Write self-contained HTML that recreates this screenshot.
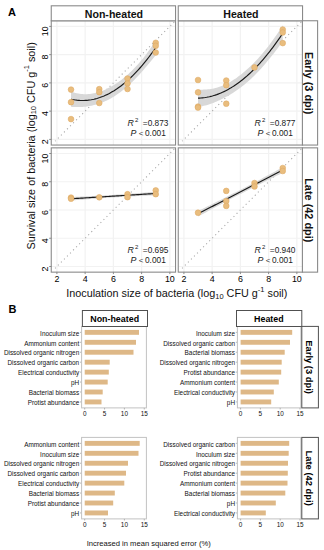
<!DOCTYPE html><html><head><meta charset="utf-8"><style>html,body{margin:0;padding:0;background:#fff;}svg{display:block;} text{font-family:"Liberation Sans", sans-serif;}</style></head><body>
<svg width="324" height="550" viewBox="0 0 324 550">
<rect width="324" height="550" fill="#fff"/>
<defs>
<clipPath id="cp00"><rect x="51.25" y="20.75" width="124.30" height="124.30"/></clipPath>
<clipPath id="cp01"><rect x="178.25" y="20.75" width="124.30" height="124.30"/></clipPath>
<clipPath id="cp10"><rect x="51.25" y="147.85" width="124.30" height="124.30"/></clipPath>
<clipPath id="cp11"><rect x="178.25" y="147.85" width="124.30" height="124.30"/></clipPath>
</defs>
<g clip-path="url(#cp00)">
<line x1="56.90" y1="20.75" x2="56.90" y2="145.05" stroke="#f2f2f2" stroke-width="1.2"/>
<line x1="51.25" y1="139.40" x2="175.55" y2="139.40" stroke="#f2f2f2" stroke-width="1.2"/>
<line x1="85.14" y1="20.75" x2="85.14" y2="145.05" stroke="#f2f2f2" stroke-width="1.2"/>
<line x1="51.25" y1="111.15" x2="175.55" y2="111.15" stroke="#f2f2f2" stroke-width="1.2"/>
<line x1="113.38" y1="20.75" x2="113.38" y2="145.05" stroke="#f2f2f2" stroke-width="1.2"/>
<line x1="51.25" y1="82.90" x2="175.55" y2="82.90" stroke="#f2f2f2" stroke-width="1.2"/>
<line x1="141.62" y1="20.75" x2="141.62" y2="145.05" stroke="#f2f2f2" stroke-width="1.2"/>
<line x1="51.25" y1="54.65" x2="175.55" y2="54.65" stroke="#f2f2f2" stroke-width="1.2"/>
<line x1="169.86" y1="20.75" x2="169.86" y2="145.05" stroke="#f2f2f2" stroke-width="1.2"/>
<line x1="51.25" y1="26.40" x2="175.55" y2="26.40" stroke="#f2f2f2" stroke-width="1.2"/>
<line x1="55.11" y1="141.19" x2="178.33" y2="17.93" stroke="#a8a8a8" stroke-width="1.1" stroke-dasharray="1.1 3.2" stroke-dashoffset="0.3"/>
<polygon points="71.02,91.61 72.46,92.10 73.89,92.53 75.33,92.92 76.76,93.25 78.20,93.53 79.64,93.76 81.07,93.93 82.51,94.06 83.94,94.13 85.38,94.16 86.82,94.14 88.25,94.06 89.69,93.94 91.12,93.77 92.56,93.56 93.99,93.29 95.43,92.98 96.87,92.62 98.30,92.22 99.74,91.77 101.17,91.27 102.61,90.73 104.05,90.14 105.48,89.51 106.92,88.84 108.35,88.12 109.79,87.36 111.23,86.57 112.66,85.73 114.10,84.85 115.53,83.94 116.97,82.99 118.41,81.99 119.84,80.96 121.28,79.88 122.71,78.77 124.15,77.61 125.59,76.41 127.02,75.17 128.46,73.89 129.89,72.56 131.33,71.19 132.77,69.77 134.20,68.32 135.64,66.81 137.07,65.27 138.51,63.68 139.94,62.05 141.38,60.36 142.82,58.63 144.25,56.84 145.69,54.99 147.12,53.08 148.56,51.11 150.00,49.07 151.43,46.96 152.87,44.77 154.30,42.52 155.74,40.18 155.74,55.18 154.30,56.94 152.87,58.70 151.43,60.46 150.00,62.21 148.56,63.94 147.12,65.66 145.69,67.37 144.25,69.05 142.82,70.71 141.38,72.34 139.94,73.95 138.51,75.52 137.07,77.06 135.64,78.56 134.20,80.02 132.77,81.45 131.33,82.83 129.89,84.18 128.46,85.49 127.02,86.77 125.59,88.00 124.15,89.20 122.71,90.36 121.28,91.48 119.84,92.55 118.41,93.59 116.97,94.59 115.53,95.54 114.10,96.46 112.66,97.33 111.23,98.16 109.79,98.94 108.35,99.69 106.92,100.40 105.48,101.06 104.05,101.69 102.61,102.28 101.17,102.84 99.74,103.36 98.30,103.84 96.87,104.29 95.43,104.71 93.99,105.09 92.56,105.43 91.12,105.75 89.69,106.03 88.25,106.27 86.82,106.49 85.38,106.67 83.94,106.82 82.51,106.94 81.07,107.02 79.64,107.08 78.20,107.11 76.76,107.10 75.33,107.07 73.89,107.01 72.46,106.92 71.02,106.81" fill="#d8d8d8"/>
<polyline points="71.02,99.21 72.46,99.51 73.89,99.77 75.33,100.00 76.76,100.18 78.20,100.32 79.64,100.42 81.07,100.48 82.51,100.50 83.94,100.48 85.38,100.41 86.82,100.31 88.25,100.17 89.69,99.98 91.12,99.76 92.56,99.50 93.99,99.19 95.43,98.84 96.87,98.46 98.30,98.03 99.74,97.56 101.17,97.05 102.61,96.51 104.05,95.92 105.48,95.29 106.92,94.62 108.35,93.91 109.79,93.15 111.23,92.36 112.66,91.53 114.10,90.66 115.53,89.74 116.97,88.79 118.41,87.79 119.84,86.76 121.28,85.68 122.71,84.56 124.15,83.41 125.59,82.21 127.02,80.97 128.46,79.69 129.89,78.37 131.33,77.01 132.77,75.61 134.20,74.17 135.64,72.69 137.07,71.16 138.51,69.60 139.94,68.00 141.38,66.35 142.82,64.67 144.25,62.94 145.69,61.18 147.12,59.37 148.56,57.52 150.00,55.64 151.43,53.71 152.87,51.74 154.30,49.73 155.74,47.68" fill="none" stroke="#1a1a1a" stroke-width="1.15"/>
<circle cx="71.02" cy="89.60" r="2.85" fill="#e9bd7e" stroke="#dea863" stroke-width="0.55"/>
<circle cx="71.02" cy="102.20" r="2.85" fill="#e9bd7e" stroke="#dea863" stroke-width="0.55"/>
<circle cx="71.02" cy="119.10" r="2.85" fill="#e9bd7e" stroke="#dea863" stroke-width="0.55"/>
<circle cx="99.26" cy="89.10" r="2.85" fill="#e9bd7e" stroke="#dea863" stroke-width="0.55"/>
<circle cx="99.26" cy="92.20" r="2.85" fill="#e9bd7e" stroke="#dea863" stroke-width="0.55"/>
<circle cx="99.26" cy="103.00" r="2.85" fill="#e9bd7e" stroke="#dea863" stroke-width="0.55"/>
<circle cx="127.50" cy="78.50" r="2.85" fill="#e9bd7e" stroke="#dea863" stroke-width="0.55"/>
<circle cx="127.50" cy="83.50" r="2.85" fill="#e9bd7e" stroke="#dea863" stroke-width="0.55"/>
<circle cx="127.50" cy="89.00" r="2.85" fill="#e9bd7e" stroke="#dea863" stroke-width="0.55"/>
<circle cx="155.74" cy="42.80" r="2.85" fill="#e9bd7e" stroke="#dea863" stroke-width="0.55"/>
<circle cx="155.74" cy="45.80" r="2.85" fill="#e9bd7e" stroke="#dea863" stroke-width="0.55"/>
<circle cx="155.74" cy="52.50" r="2.85" fill="#e9bd7e" stroke="#dea863" stroke-width="0.55"/>
</g>
<text x="127.60" y="126.10" font-size="8.8" fill="#1a1a1a"><tspan font-style="italic">R</tspan></text>
<text x="134.90" y="121.50" font-size="6" fill="#1a1a1a">2</text>
<text x="142.80" y="126.10" font-size="8.3" fill="#1a1a1a">=0.873</text>
<text x="130.40" y="135.80" font-size="8.8" fill="#1a1a1a"><tspan font-style="italic">P</tspan></text>
<text x="138.70" y="135.70" font-size="8.1" fill="#333">&lt;</text>
<text x="145.00" y="135.80" font-size="8.3" fill="#1a1a1a">0.001</text>
<rect x="51.25" y="20.75" width="124.30" height="124.30" fill="none" stroke="#8a8a8a" stroke-width="1.1"/>
<g clip-path="url(#cp01)">
<line x1="183.90" y1="20.75" x2="183.90" y2="145.05" stroke="#f2f2f2" stroke-width="1.2"/>
<line x1="178.25" y1="139.40" x2="302.55" y2="139.40" stroke="#f2f2f2" stroke-width="1.2"/>
<line x1="212.14" y1="20.75" x2="212.14" y2="145.05" stroke="#f2f2f2" stroke-width="1.2"/>
<line x1="178.25" y1="111.15" x2="302.55" y2="111.15" stroke="#f2f2f2" stroke-width="1.2"/>
<line x1="240.38" y1="20.75" x2="240.38" y2="145.05" stroke="#f2f2f2" stroke-width="1.2"/>
<line x1="178.25" y1="82.90" x2="302.55" y2="82.90" stroke="#f2f2f2" stroke-width="1.2"/>
<line x1="268.62" y1="20.75" x2="268.62" y2="145.05" stroke="#f2f2f2" stroke-width="1.2"/>
<line x1="178.25" y1="54.65" x2="302.55" y2="54.65" stroke="#f2f2f2" stroke-width="1.2"/>
<line x1="296.86" y1="20.75" x2="296.86" y2="145.05" stroke="#f2f2f2" stroke-width="1.2"/>
<line x1="178.25" y1="26.40" x2="302.55" y2="26.40" stroke="#f2f2f2" stroke-width="1.2"/>
<line x1="182.11" y1="141.19" x2="305.33" y2="17.93" stroke="#a8a8a8" stroke-width="1.1" stroke-dasharray="1.1 3.2" stroke-dashoffset="0.3"/>
<polygon points="198.02,89.68 199.46,89.69 200.89,89.68 202.33,89.66 203.76,89.61 205.20,89.54 206.64,89.44 208.07,89.30 209.51,89.14 210.94,88.94 212.38,88.70 213.82,88.42 215.25,88.10 216.69,87.73 218.12,87.32 219.56,86.85 220.99,86.34 222.43,85.78 223.87,85.17 225.30,84.51 226.74,83.80 228.17,83.05 229.61,82.26 231.05,81.42 232.48,80.54 233.92,79.62 235.35,78.65 236.79,77.65 238.23,76.61 239.66,75.53 241.10,74.41 242.53,73.26 243.97,72.07 245.41,70.85 246.84,69.58 248.28,68.29 249.71,66.95 251.15,65.58 252.59,64.17 254.02,62.72 255.46,61.24 256.89,59.72 258.33,58.16 259.77,56.56 261.20,54.93 262.64,53.25 264.07,51.53 265.51,49.77 266.94,47.98 268.38,46.14 269.82,44.25 271.25,42.33 272.69,40.36 274.12,38.35 275.56,36.30 277.00,34.20 278.43,32.05 279.87,29.86 281.30,27.63 282.74,25.35 282.74,41.35 281.30,43.34 279.87,45.32 278.43,47.26 277.00,49.18 275.56,51.07 274.12,52.94 272.69,54.78 271.25,56.58 269.82,58.36 268.38,60.12 266.94,61.84 265.51,63.53 264.07,65.19 262.64,66.82 261.20,68.41 259.77,69.98 258.33,71.51 256.89,73.01 255.46,74.48 254.02,75.91 252.59,77.31 251.15,78.67 249.71,80.00 248.28,81.29 246.84,82.55 245.41,83.77 243.97,84.96 242.53,86.11 241.10,87.23 239.66,88.31 238.23,89.36 236.79,90.37 235.35,91.35 233.92,92.29 232.48,93.21 231.05,94.10 229.61,94.95 228.17,95.78 226.74,96.58 225.30,97.36 223.87,98.11 222.43,98.83 220.99,99.54 219.56,100.21 218.12,100.87 216.69,101.50 215.25,102.12 213.82,102.70 212.38,103.26 210.94,103.78 209.51,104.27 208.07,104.72 206.64,105.14 205.20,105.51 203.76,105.84 202.33,106.13 200.89,106.36 199.46,106.55 198.02,106.68" fill="#d8d8d8"/>
<polyline points="198.02,98.18 199.46,98.12 200.89,98.02 202.33,97.89 203.76,97.73 205.20,97.53 206.64,97.29 208.07,97.01 209.51,96.71 210.94,96.36 212.38,95.98 213.82,95.56 215.25,95.11 216.69,94.62 218.12,94.09 219.56,93.53 220.99,92.94 222.43,92.31 223.87,91.64 225.30,90.93 226.74,90.19 228.17,89.42 229.61,88.61 231.05,87.76 232.48,86.87 233.92,85.96 235.35,85.00 236.79,84.01 238.23,82.98 239.66,81.92 241.10,80.82 242.53,79.69 243.97,78.51 245.41,77.31 246.84,76.07 248.28,74.79 249.71,73.47 251.15,72.12 252.59,70.74 254.02,69.32 255.46,67.86 256.89,66.37 258.33,64.84 259.77,63.27 261.20,61.67 262.64,60.03 264.07,58.36 265.51,56.65 266.94,54.91 268.38,53.13 269.82,51.31 271.25,49.46 272.69,47.57 274.12,45.64 275.56,43.68 277.00,41.69 278.43,39.66 279.87,37.59 281.30,35.49 282.74,33.35" fill="none" stroke="#1a1a1a" stroke-width="1.15"/>
<circle cx="198.02" cy="80.00" r="2.85" fill="#e9bd7e" stroke="#dea863" stroke-width="0.55"/>
<circle cx="198.02" cy="92.30" r="2.85" fill="#e9bd7e" stroke="#dea863" stroke-width="0.55"/>
<circle cx="198.02" cy="106.60" r="2.85" fill="#e9bd7e" stroke="#dea863" stroke-width="0.55"/>
<circle cx="198.02" cy="107.60" r="2.85" fill="#e9bd7e" stroke="#dea863" stroke-width="0.55"/>
<circle cx="226.26" cy="80.50" r="2.85" fill="#e9bd7e" stroke="#dea863" stroke-width="0.55"/>
<circle cx="226.26" cy="85.20" r="2.85" fill="#e9bd7e" stroke="#dea863" stroke-width="0.55"/>
<circle cx="226.26" cy="103.70" r="2.85" fill="#e9bd7e" stroke="#dea863" stroke-width="0.55"/>
<circle cx="254.50" cy="67.40" r="2.85" fill="#e9bd7e" stroke="#dea863" stroke-width="0.55"/>
<circle cx="282.74" cy="29.50" r="2.85" fill="#e9bd7e" stroke="#dea863" stroke-width="0.55"/>
<circle cx="282.74" cy="32.50" r="2.85" fill="#e9bd7e" stroke="#dea863" stroke-width="0.55"/>
<circle cx="282.74" cy="43.10" r="2.85" fill="#e9bd7e" stroke="#dea863" stroke-width="0.55"/>
</g>
<text x="254.60" y="126.10" font-size="8.8" fill="#1a1a1a"><tspan font-style="italic">R</tspan></text>
<text x="261.90" y="121.50" font-size="6" fill="#1a1a1a">2</text>
<text x="269.80" y="126.10" font-size="8.3" fill="#1a1a1a">=0.877</text>
<text x="257.40" y="135.80" font-size="8.8" fill="#1a1a1a"><tspan font-style="italic">P</tspan></text>
<text x="265.70" y="135.70" font-size="8.1" fill="#333">&lt;</text>
<text x="272.00" y="135.80" font-size="8.3" fill="#1a1a1a">0.001</text>
<rect x="178.25" y="20.75" width="124.30" height="124.30" fill="none" stroke="#8a8a8a" stroke-width="1.1"/>
<g clip-path="url(#cp10)">
<line x1="56.90" y1="147.85" x2="56.90" y2="272.15" stroke="#f2f2f2" stroke-width="1.2"/>
<line x1="51.25" y1="266.50" x2="175.55" y2="266.50" stroke="#f2f2f2" stroke-width="1.2"/>
<line x1="85.14" y1="147.85" x2="85.14" y2="272.15" stroke="#f2f2f2" stroke-width="1.2"/>
<line x1="51.25" y1="238.25" x2="175.55" y2="238.25" stroke="#f2f2f2" stroke-width="1.2"/>
<line x1="113.38" y1="147.85" x2="113.38" y2="272.15" stroke="#f2f2f2" stroke-width="1.2"/>
<line x1="51.25" y1="210.00" x2="175.55" y2="210.00" stroke="#f2f2f2" stroke-width="1.2"/>
<line x1="141.62" y1="147.85" x2="141.62" y2="272.15" stroke="#f2f2f2" stroke-width="1.2"/>
<line x1="51.25" y1="181.75" x2="175.55" y2="181.75" stroke="#f2f2f2" stroke-width="1.2"/>
<line x1="169.86" y1="147.85" x2="169.86" y2="272.15" stroke="#f2f2f2" stroke-width="1.2"/>
<line x1="51.25" y1="153.50" x2="175.55" y2="153.50" stroke="#f2f2f2" stroke-width="1.2"/>
<line x1="55.11" y1="268.29" x2="178.33" y2="145.03" stroke="#a8a8a8" stroke-width="1.1" stroke-dasharray="1.1 3.2" stroke-dashoffset="0.3"/>
<polygon points="71.02,197.00 72.46,196.94 73.89,196.88 75.33,196.82 76.76,196.76 78.20,196.70 79.64,196.64 81.07,196.57 82.51,196.51 83.94,196.44 85.38,196.38 86.82,196.31 88.25,196.24 89.69,196.17 91.12,196.09 92.56,196.02 93.99,195.95 95.43,195.87 96.87,195.80 98.30,195.72 99.74,195.64 101.17,195.56 102.61,195.48 104.05,195.40 105.48,195.31 106.92,195.23 108.35,195.14 109.79,195.06 111.23,194.97 112.66,194.88 114.10,194.79 115.53,194.70 116.97,194.61 118.41,194.51 119.84,194.42 121.28,194.32 122.71,194.22 124.15,194.13 125.59,194.03 127.02,193.93 128.46,193.82 129.89,193.72 131.33,193.62 132.77,193.51 134.20,193.41 135.64,193.30 137.07,193.19 138.51,193.08 139.94,192.97 141.38,192.86 142.82,192.74 144.25,192.63 145.69,192.51 147.12,192.40 148.56,192.28 150.00,192.16 151.43,192.04 152.87,191.92 154.30,191.80 155.74,191.67 155.74,195.27 154.30,195.33 152.87,195.39 151.43,195.45 150.00,195.51 148.56,195.57 147.12,195.63 145.69,195.70 144.25,195.76 142.82,195.83 141.38,195.89 139.94,195.96 138.51,196.03 137.07,196.10 135.64,196.17 134.20,196.25 132.77,196.32 131.33,196.40 129.89,196.47 128.46,196.55 127.02,196.63 125.59,196.71 124.15,196.79 122.71,196.87 121.28,196.96 119.84,197.04 118.41,197.13 116.97,197.21 115.53,197.30 114.10,197.39 112.66,197.48 111.23,197.57 109.79,197.66 108.35,197.76 106.92,197.85 105.48,197.95 104.05,198.05 102.61,198.14 101.17,198.24 99.74,198.34 98.30,198.45 96.87,198.55 95.43,198.65 93.99,198.76 92.56,198.86 91.12,198.97 89.69,199.08 88.25,199.19 86.82,199.30 85.38,199.41 83.94,199.53 82.51,199.64 81.07,199.76 79.64,199.87 78.20,199.99 76.76,200.11 75.33,200.23 73.89,200.35 72.46,200.47 71.02,200.60" fill="#d8d8d8"/>
<polyline points="71.02,198.80 72.46,198.71 73.89,198.62 75.33,198.53 76.76,198.43 78.20,198.34 79.64,198.25 81.07,198.16 82.51,198.07 83.94,197.98 85.38,197.89 86.82,197.80 88.25,197.71 89.69,197.62 91.12,197.53 92.56,197.44 93.99,197.35 95.43,197.26 96.87,197.17 98.30,197.08 99.74,196.99 101.17,196.90 102.61,196.81 104.05,196.72 105.48,196.63 106.92,196.54 108.35,196.45 109.79,196.36 111.23,196.27 112.66,196.18 114.10,196.09 115.53,196.00 116.97,195.91 118.41,195.82 119.84,195.73 121.28,195.64 122.71,195.55 124.15,195.46 125.59,195.37 127.02,195.28 128.46,195.19 129.89,195.10 131.33,195.01 132.77,194.92 134.20,194.83 135.64,194.74 137.07,194.65 138.51,194.56 139.94,194.47 141.38,194.38 142.82,194.29 144.25,194.19 145.69,194.10 147.12,194.01 148.56,193.92 150.00,193.83 151.43,193.74 152.87,193.65 154.30,193.56 155.74,193.47" fill="none" stroke="#1a1a1a" stroke-width="1.15"/>
<circle cx="71.02" cy="197.60" r="2.85" fill="#e9bd7e" stroke="#dea863" stroke-width="0.55"/>
<circle cx="71.02" cy="198.70" r="2.85" fill="#e9bd7e" stroke="#dea863" stroke-width="0.55"/>
<circle cx="99.26" cy="197.30" r="2.85" fill="#e9bd7e" stroke="#dea863" stroke-width="0.55"/>
<circle cx="127.50" cy="194.20" r="2.85" fill="#e9bd7e" stroke="#dea863" stroke-width="0.55"/>
<circle cx="127.50" cy="197.20" r="2.85" fill="#e9bd7e" stroke="#dea863" stroke-width="0.55"/>
<circle cx="155.74" cy="190.40" r="2.85" fill="#e9bd7e" stroke="#dea863" stroke-width="0.55"/>
<circle cx="155.74" cy="194.20" r="2.85" fill="#e9bd7e" stroke="#dea863" stroke-width="0.55"/>
</g>
<text x="127.60" y="253.20" font-size="8.8" fill="#1a1a1a"><tspan font-style="italic">R</tspan></text>
<text x="134.90" y="248.60" font-size="6" fill="#1a1a1a">2</text>
<text x="142.80" y="253.20" font-size="8.3" fill="#1a1a1a">=0.695</text>
<text x="130.40" y="262.90" font-size="8.8" fill="#1a1a1a"><tspan font-style="italic">P</tspan></text>
<text x="138.70" y="262.80" font-size="8.1" fill="#333">&lt;</text>
<text x="145.00" y="262.90" font-size="8.3" fill="#1a1a1a">0.001</text>
<rect x="51.25" y="147.85" width="124.30" height="124.30" fill="none" stroke="#8a8a8a" stroke-width="1.1"/>
<g clip-path="url(#cp11)">
<line x1="183.90" y1="147.85" x2="183.90" y2="272.15" stroke="#f2f2f2" stroke-width="1.2"/>
<line x1="178.25" y1="266.50" x2="302.55" y2="266.50" stroke="#f2f2f2" stroke-width="1.2"/>
<line x1="212.14" y1="147.85" x2="212.14" y2="272.15" stroke="#f2f2f2" stroke-width="1.2"/>
<line x1="178.25" y1="238.25" x2="302.55" y2="238.25" stroke="#f2f2f2" stroke-width="1.2"/>
<line x1="240.38" y1="147.85" x2="240.38" y2="272.15" stroke="#f2f2f2" stroke-width="1.2"/>
<line x1="178.25" y1="210.00" x2="302.55" y2="210.00" stroke="#f2f2f2" stroke-width="1.2"/>
<line x1="268.62" y1="147.85" x2="268.62" y2="272.15" stroke="#f2f2f2" stroke-width="1.2"/>
<line x1="178.25" y1="181.75" x2="302.55" y2="181.75" stroke="#f2f2f2" stroke-width="1.2"/>
<line x1="296.86" y1="147.85" x2="296.86" y2="272.15" stroke="#f2f2f2" stroke-width="1.2"/>
<line x1="178.25" y1="153.50" x2="302.55" y2="153.50" stroke="#f2f2f2" stroke-width="1.2"/>
<line x1="182.11" y1="268.29" x2="305.33" y2="145.03" stroke="#a8a8a8" stroke-width="1.1" stroke-dasharray="1.1 3.2" stroke-dashoffset="0.3"/>
<polygon points="198.02,210.98 199.46,210.29 200.89,209.59 202.33,208.89 203.76,208.19 205.20,207.49 206.64,206.79 208.07,206.08 209.51,205.38 210.94,204.67 212.38,203.96 213.82,203.25 215.25,202.54 216.69,201.82 218.12,201.11 219.56,200.39 220.99,199.67 222.43,198.95 223.87,198.23 225.30,197.50 226.74,196.78 228.17,196.05 229.61,195.32 231.05,194.59 232.48,193.86 233.92,193.12 235.35,192.39 236.79,191.65 238.23,190.91 239.66,190.17 241.10,189.43 242.53,188.69 243.97,187.94 245.41,187.19 246.84,186.45 248.28,185.70 249.71,184.95 251.15,184.19 252.59,183.44 254.02,182.68 255.46,181.92 256.89,181.16 258.33,180.40 259.77,179.64 261.20,178.88 262.64,178.11 264.07,177.34 265.51,176.57 266.94,175.80 268.38,175.03 269.82,174.26 271.25,173.48 272.69,172.70 274.12,171.92 275.56,171.14 277.00,170.36 278.43,169.58 279.87,168.79 281.30,168.01 282.74,167.22 282.74,172.82 281.30,173.51 279.87,174.21 278.43,174.91 277.00,175.61 275.56,176.31 274.12,177.01 272.69,177.72 271.25,178.42 269.82,179.13 268.38,179.84 266.94,180.55 265.51,181.27 264.07,181.98 262.64,182.70 261.20,183.41 259.77,184.13 258.33,184.85 256.89,185.58 255.46,186.30 254.02,187.03 252.59,187.75 251.15,188.48 249.71,189.21 248.28,189.95 246.84,190.68 245.41,191.41 243.97,192.15 242.53,192.89 241.10,193.63 239.66,194.37 238.23,195.12 236.79,195.86 235.35,196.61 233.92,197.36 232.48,198.11 231.05,198.86 229.61,199.61 228.17,200.36 226.74,201.12 225.30,201.88 223.87,202.64 222.43,203.40 220.99,204.16 219.56,204.93 218.12,205.69 216.69,206.46 215.25,207.23 213.82,208.00 212.38,208.77 210.94,209.55 209.51,210.32 208.07,211.10 206.64,211.88 205.20,212.66 203.76,213.44 202.33,214.22 200.89,215.01 199.46,215.80 198.02,216.58" fill="#d8d8d8"/>
<polyline points="198.02,213.78 199.46,213.04 200.89,212.30 202.33,211.56 203.76,210.82 205.20,210.08 206.64,209.33 208.07,208.59 209.51,207.85 210.94,207.11 212.38,206.37 213.82,205.62 215.25,204.88 216.69,204.14 218.12,203.40 219.56,202.66 220.99,201.92 222.43,201.17 223.87,200.43 225.30,199.69 226.74,198.95 228.17,198.21 229.61,197.46 231.05,196.72 232.48,195.98 233.92,195.24 235.35,194.50 236.79,193.76 238.23,193.01 239.66,192.27 241.10,191.53 242.53,190.79 243.97,190.05 245.41,189.30 246.84,188.56 248.28,187.82 249.71,187.08 251.15,186.34 252.59,185.60 254.02,184.85 255.46,184.11 256.89,183.37 258.33,182.63 259.77,181.89 261.20,181.14 262.64,180.40 264.07,179.66 265.51,178.92 266.94,178.18 268.38,177.44 269.82,176.69 271.25,175.95 272.69,175.21 274.12,174.47 275.56,173.73 277.00,172.99 278.43,172.24 279.87,171.50 281.30,170.76 282.74,170.02" fill="none" stroke="#1a1a1a" stroke-width="1.15"/>
<circle cx="198.02" cy="212.70" r="2.85" fill="#e9bd7e" stroke="#dea863" stroke-width="0.55"/>
<circle cx="226.26" cy="190.90" r="2.85" fill="#e9bd7e" stroke="#dea863" stroke-width="0.55"/>
<circle cx="226.26" cy="201.00" r="2.85" fill="#e9bd7e" stroke="#dea863" stroke-width="0.55"/>
<circle cx="226.26" cy="205.90" r="2.85" fill="#e9bd7e" stroke="#dea863" stroke-width="0.55"/>
<circle cx="254.50" cy="183.00" r="2.85" fill="#e9bd7e" stroke="#dea863" stroke-width="0.55"/>
<circle cx="254.50" cy="186.50" r="2.85" fill="#e9bd7e" stroke="#dea863" stroke-width="0.55"/>
<circle cx="282.74" cy="168.00" r="2.85" fill="#e9bd7e" stroke="#dea863" stroke-width="0.55"/>
<circle cx="282.74" cy="171.00" r="2.85" fill="#e9bd7e" stroke="#dea863" stroke-width="0.55"/>
</g>
<text x="254.60" y="253.20" font-size="8.8" fill="#1a1a1a"><tspan font-style="italic">R</tspan></text>
<text x="261.90" y="248.60" font-size="6" fill="#1a1a1a">2</text>
<text x="269.80" y="253.20" font-size="8.3" fill="#1a1a1a">=0.940</text>
<text x="257.40" y="262.90" font-size="8.8" fill="#1a1a1a"><tspan font-style="italic">P</tspan></text>
<text x="265.70" y="262.80" font-size="8.1" fill="#333">&lt;</text>
<text x="272.00" y="262.90" font-size="8.3" fill="#1a1a1a">0.001</text>
<rect x="178.25" y="147.85" width="124.30" height="124.30" fill="none" stroke="#8a8a8a" stroke-width="1.1"/>
<rect x="51.25" y="5.8" width="124.30" height="15.0" fill="#fff" stroke="#8a8a8a" stroke-width="1.1"/>
<text x="113.90" y="17.8" font-size="10.6" font-weight="bold" text-anchor="middle" fill="#111">Non-heated</text>
<rect x="178.25" y="5.8" width="124.30" height="15.0" fill="#fff" stroke="#8a8a8a" stroke-width="1.1"/>
<text x="240.90" y="17.8" font-size="10.6" font-weight="bold" text-anchor="middle" fill="#111">Heated</text>
<rect x="302.4" y="20.75" width="15.2" height="124.30" fill="#fff" stroke="#8a8a8a" stroke-width="1.1"/>
<text transform="translate(305.4,83.20) rotate(90)" font-size="10.9" font-weight="bold" text-anchor="middle" fill="#111">Early (3 dpi)</text>
<rect x="302.4" y="147.85" width="15.2" height="124.30" fill="#fff" stroke="#8a8a8a" stroke-width="1.1"/>
<text transform="translate(305.4,210.30) rotate(90)" font-size="10.9" font-weight="bold" text-anchor="middle" fill="#111">Late (42 dpi)</text>
<line x1="49.2" y1="139.40" x2="51.4" y2="139.40" stroke="#8a8a8a" stroke-width="1"/>
<text transform="translate(48.3,139.40) rotate(-90)" font-size="8.9" text-anchor="end" fill="#000">2</text>
<line x1="49.2" y1="111.15" x2="51.4" y2="111.15" stroke="#8a8a8a" stroke-width="1"/>
<text transform="translate(48.3,111.15) rotate(-90)" font-size="8.9" text-anchor="end" fill="#000">4</text>
<line x1="49.2" y1="82.90" x2="51.4" y2="82.90" stroke="#8a8a8a" stroke-width="1"/>
<text transform="translate(48.3,82.90) rotate(-90)" font-size="8.9" text-anchor="end" fill="#000">6</text>
<line x1="49.2" y1="54.65" x2="51.4" y2="54.65" stroke="#8a8a8a" stroke-width="1"/>
<text transform="translate(48.3,54.65) rotate(-90)" font-size="8.9" text-anchor="end" fill="#000">8</text>
<line x1="49.2" y1="26.40" x2="51.4" y2="26.40" stroke="#8a8a8a" stroke-width="1"/>
<text transform="translate(48.3,26.40) rotate(-90)" font-size="8.9" text-anchor="end" fill="#000">10</text>
<line x1="49.2" y1="266.50" x2="51.4" y2="266.50" stroke="#8a8a8a" stroke-width="1"/>
<text transform="translate(48.3,266.50) rotate(-90)" font-size="8.9" text-anchor="end" fill="#000">2</text>
<line x1="49.2" y1="238.25" x2="51.4" y2="238.25" stroke="#8a8a8a" stroke-width="1"/>
<text transform="translate(48.3,238.25) rotate(-90)" font-size="8.9" text-anchor="end" fill="#000">4</text>
<line x1="49.2" y1="210.00" x2="51.4" y2="210.00" stroke="#8a8a8a" stroke-width="1"/>
<text transform="translate(48.3,210.00) rotate(-90)" font-size="8.9" text-anchor="end" fill="#000">6</text>
<line x1="49.2" y1="181.75" x2="51.4" y2="181.75" stroke="#8a8a8a" stroke-width="1"/>
<text transform="translate(48.3,181.75) rotate(-90)" font-size="8.9" text-anchor="end" fill="#000">8</text>
<line x1="49.2" y1="153.50" x2="51.4" y2="153.50" stroke="#8a8a8a" stroke-width="1"/>
<text transform="translate(48.3,153.50) rotate(-90)" font-size="8.9" text-anchor="end" fill="#000">10</text>
<line x1="56.90" y1="271.9" x2="56.90" y2="274.1" stroke="#8a8a8a" stroke-width="1"/>
<text x="56.90" y="282.0" font-size="8.9" text-anchor="middle" fill="#000">2</text>
<line x1="85.14" y1="271.9" x2="85.14" y2="274.1" stroke="#8a8a8a" stroke-width="1"/>
<text x="85.14" y="282.0" font-size="8.9" text-anchor="middle" fill="#000">4</text>
<line x1="113.38" y1="271.9" x2="113.38" y2="274.1" stroke="#8a8a8a" stroke-width="1"/>
<text x="113.38" y="282.0" font-size="8.9" text-anchor="middle" fill="#000">6</text>
<line x1="141.62" y1="271.9" x2="141.62" y2="274.1" stroke="#8a8a8a" stroke-width="1"/>
<text x="141.62" y="282.0" font-size="8.9" text-anchor="middle" fill="#000">8</text>
<line x1="169.86" y1="271.9" x2="169.86" y2="274.1" stroke="#8a8a8a" stroke-width="1"/>
<text x="169.86" y="282.0" font-size="8.9" text-anchor="middle" fill="#000">10</text>
<line x1="183.90" y1="271.9" x2="183.90" y2="274.1" stroke="#8a8a8a" stroke-width="1"/>
<text x="183.90" y="282.0" font-size="8.9" text-anchor="middle" fill="#000">2</text>
<line x1="212.14" y1="271.9" x2="212.14" y2="274.1" stroke="#8a8a8a" stroke-width="1"/>
<text x="212.14" y="282.0" font-size="8.9" text-anchor="middle" fill="#000">4</text>
<line x1="240.38" y1="271.9" x2="240.38" y2="274.1" stroke="#8a8a8a" stroke-width="1"/>
<text x="240.38" y="282.0" font-size="8.9" text-anchor="middle" fill="#000">6</text>
<line x1="268.62" y1="271.9" x2="268.62" y2="274.1" stroke="#8a8a8a" stroke-width="1"/>
<text x="268.62" y="282.0" font-size="8.9" text-anchor="middle" fill="#000">8</text>
<line x1="296.86" y1="271.9" x2="296.86" y2="274.1" stroke="#8a8a8a" stroke-width="1"/>
<text x="296.86" y="282.0" font-size="8.9" text-anchor="middle" fill="#000">10</text>
<text x="176.8" y="297.4" font-size="10.82" text-anchor="middle" fill="#111">Inoculation size of bacteria (log<tspan font-size="7.5" dy="1.7">10</tspan><tspan dy="-1.7"> CFU g</tspan><tspan font-size="7.5" dy="-5.6">-1</tspan><tspan dy="5.6"> soil)</tspan></text>
<text transform="translate(34.6,145.9) rotate(-90)" font-size="10.82" text-anchor="middle" fill="#111">Survival size of bacteria (log<tspan font-size="7.5" dy="1.7">10</tspan><tspan dy="-1.7"> CFU g</tspan><tspan font-size="7.5" dy="-5.6">-1</tspan><tspan dy="5.6"> soil)</tspan></text>
<text x="8.0" y="16.3" font-size="11" font-weight="bold" fill="#000">A</text>
<text x="8.4" y="313.0" font-size="11" font-weight="bold" fill="#000">B</text>
<rect x="84.70" y="329.91" width="54.30" height="4.90" fill="#deb887"/>
<line x1="80.00" y1="332.36" x2="81.60" y2="332.36" stroke="#999" stroke-width="0.7"/>
<text x="79.20" y="335.56" font-size="6.40" text-anchor="end" fill="#111">Inoculum size</text>
<rect x="84.70" y="339.85" width="51.30" height="4.90" fill="#deb887"/>
<line x1="80.00" y1="342.30" x2="81.60" y2="342.30" stroke="#999" stroke-width="0.7"/>
<text x="79.20" y="345.50" font-size="6.40" text-anchor="end" fill="#111">Ammonium content</text>
<rect x="84.70" y="349.79" width="48.80" height="4.90" fill="#deb887"/>
<line x1="80.00" y1="352.24" x2="81.60" y2="352.24" stroke="#999" stroke-width="0.7"/>
<text x="79.20" y="355.44" font-size="6.40" text-anchor="end" fill="#111">Dissolved organic nitrogen</text>
<rect x="84.70" y="359.73" width="25.00" height="4.90" fill="#deb887"/>
<line x1="80.00" y1="362.18" x2="81.60" y2="362.18" stroke="#999" stroke-width="0.7"/>
<text x="79.20" y="365.38" font-size="6.40" text-anchor="end" fill="#111">Dissolved organic carbon</text>
<rect x="84.70" y="369.67" width="24.10" height="4.90" fill="#deb887"/>
<line x1="80.00" y1="372.12" x2="81.60" y2="372.12" stroke="#999" stroke-width="0.7"/>
<text x="79.20" y="375.32" font-size="6.40" text-anchor="end" fill="#111">Electrical conductivity</text>
<rect x="84.70" y="379.61" width="23.00" height="4.90" fill="#deb887"/>
<line x1="80.00" y1="382.06" x2="81.60" y2="382.06" stroke="#999" stroke-width="0.7"/>
<text x="79.20" y="385.26" font-size="6.40" text-anchor="end" fill="#111">pH</text>
<rect x="84.70" y="389.55" width="18.00" height="4.90" fill="#deb887"/>
<line x1="80.00" y1="392.00" x2="81.60" y2="392.00" stroke="#999" stroke-width="0.7"/>
<text x="79.20" y="395.20" font-size="6.40" text-anchor="end" fill="#111">Bacterial biomass</text>
<rect x="84.70" y="399.49" width="16.80" height="4.90" fill="#deb887"/>
<line x1="80.00" y1="401.94" x2="81.60" y2="401.94" stroke="#999" stroke-width="0.7"/>
<text x="79.20" y="405.14" font-size="6.40" text-anchor="end" fill="#111">Protist abundance</text>
<rect x="81.60" y="326.40" width="64.80" height="81.50" fill="none" stroke="#c2c2c2" stroke-width="1"/>
<line x1="84.70" y1="407.90" x2="84.70" y2="409.50" stroke="#999" stroke-width="0.7"/>
<text x="84.70" y="415.60" font-size="6.4" text-anchor="middle" fill="#111">0</text>
<line x1="104.55" y1="407.90" x2="104.55" y2="409.50" stroke="#999" stroke-width="0.7"/>
<text x="104.55" y="415.60" font-size="6.4" text-anchor="middle" fill="#111">5</text>
<line x1="124.40" y1="407.90" x2="124.40" y2="409.50" stroke="#999" stroke-width="0.7"/>
<text x="124.40" y="415.60" font-size="6.4" text-anchor="middle" fill="#111">10</text>
<line x1="144.25" y1="407.90" x2="144.25" y2="409.50" stroke="#999" stroke-width="0.7"/>
<text x="144.25" y="415.60" font-size="6.4" text-anchor="middle" fill="#111">15</text>
<rect x="240.60" y="329.91" width="51.60" height="4.90" fill="#deb887"/>
<line x1="235.80" y1="332.36" x2="237.40" y2="332.36" stroke="#999" stroke-width="0.7"/>
<text x="235.00" y="335.56" font-size="6.40" text-anchor="end" fill="#111">Inoculum size</text>
<rect x="240.60" y="339.85" width="49.40" height="4.90" fill="#deb887"/>
<line x1="235.80" y1="342.30" x2="237.40" y2="342.30" stroke="#999" stroke-width="0.7"/>
<text x="235.00" y="345.50" font-size="6.40" text-anchor="end" fill="#111">Dissolved organic carbon</text>
<rect x="240.60" y="349.79" width="44.10" height="4.90" fill="#deb887"/>
<line x1="235.80" y1="352.24" x2="237.40" y2="352.24" stroke="#999" stroke-width="0.7"/>
<text x="235.00" y="355.44" font-size="6.40" text-anchor="end" fill="#111">Bacterial biomass</text>
<rect x="240.60" y="359.73" width="41.10" height="4.90" fill="#deb887"/>
<line x1="235.80" y1="362.18" x2="237.40" y2="362.18" stroke="#999" stroke-width="0.7"/>
<text x="235.00" y="365.38" font-size="6.40" text-anchor="end" fill="#111">Dissolved organic nitrogen</text>
<rect x="240.60" y="369.67" width="40.60" height="4.90" fill="#deb887"/>
<line x1="235.80" y1="372.12" x2="237.40" y2="372.12" stroke="#999" stroke-width="0.7"/>
<text x="235.00" y="375.32" font-size="6.40" text-anchor="end" fill="#111">Protist abundance</text>
<rect x="240.60" y="379.61" width="38.20" height="4.90" fill="#deb887"/>
<line x1="235.80" y1="382.06" x2="237.40" y2="382.06" stroke="#999" stroke-width="0.7"/>
<text x="235.00" y="385.26" font-size="6.40" text-anchor="end" fill="#111">Ammonium content</text>
<rect x="240.60" y="389.55" width="33.20" height="4.90" fill="#deb887"/>
<line x1="235.80" y1="392.00" x2="237.40" y2="392.00" stroke="#999" stroke-width="0.7"/>
<text x="235.00" y="395.20" font-size="6.40" text-anchor="end" fill="#111">Electrical conductivity</text>
<rect x="240.60" y="399.49" width="30.60" height="4.90" fill="#deb887"/>
<line x1="235.80" y1="401.94" x2="237.40" y2="401.94" stroke="#999" stroke-width="0.7"/>
<text x="235.00" y="405.14" font-size="6.40" text-anchor="end" fill="#111">pH</text>
<rect x="237.40" y="326.40" width="63.50" height="81.50" fill="none" stroke="#c2c2c2" stroke-width="1"/>
<line x1="240.60" y1="407.90" x2="240.60" y2="409.50" stroke="#999" stroke-width="0.7"/>
<text x="240.60" y="415.60" font-size="6.4" text-anchor="middle" fill="#111">0</text>
<line x1="260.40" y1="407.90" x2="260.40" y2="409.50" stroke="#999" stroke-width="0.7"/>
<text x="260.40" y="415.60" font-size="6.4" text-anchor="middle" fill="#111">5</text>
<line x1="280.20" y1="407.90" x2="280.20" y2="409.50" stroke="#999" stroke-width="0.7"/>
<text x="280.20" y="415.60" font-size="6.4" text-anchor="middle" fill="#111">10</text>
<line x1="300.00" y1="407.90" x2="300.00" y2="409.50" stroke="#999" stroke-width="0.7"/>
<text x="300.00" y="415.60" font-size="6.4" text-anchor="middle" fill="#111">15</text>
<rect x="84.70" y="440.91" width="55.00" height="4.90" fill="#deb887"/>
<line x1="80.00" y1="443.36" x2="81.60" y2="443.36" stroke="#999" stroke-width="0.7"/>
<text x="79.20" y="446.56" font-size="6.40" text-anchor="end" fill="#111">Ammonium content</text>
<rect x="84.70" y="450.85" width="53.80" height="4.90" fill="#deb887"/>
<line x1="80.00" y1="453.30" x2="81.60" y2="453.30" stroke="#999" stroke-width="0.7"/>
<text x="79.20" y="456.50" font-size="6.40" text-anchor="end" fill="#111">Inoculum size</text>
<rect x="84.70" y="460.79" width="43.30" height="4.90" fill="#deb887"/>
<line x1="80.00" y1="463.24" x2="81.60" y2="463.24" stroke="#999" stroke-width="0.7"/>
<text x="79.20" y="466.44" font-size="6.40" text-anchor="end" fill="#111">Dissolved organic nitrogen</text>
<rect x="84.70" y="470.73" width="41.30" height="4.90" fill="#deb887"/>
<line x1="80.00" y1="473.18" x2="81.60" y2="473.18" stroke="#999" stroke-width="0.7"/>
<text x="79.20" y="476.38" font-size="6.40" text-anchor="end" fill="#111">Dissolved organic carbon</text>
<rect x="84.70" y="480.67" width="39.60" height="4.90" fill="#deb887"/>
<line x1="80.00" y1="483.12" x2="81.60" y2="483.12" stroke="#999" stroke-width="0.7"/>
<text x="79.20" y="486.32" font-size="6.40" text-anchor="end" fill="#111">Electrical conductivity</text>
<rect x="84.70" y="490.61" width="30.10" height="4.90" fill="#deb887"/>
<line x1="80.00" y1="493.06" x2="81.60" y2="493.06" stroke="#999" stroke-width="0.7"/>
<text x="79.20" y="496.26" font-size="6.40" text-anchor="end" fill="#111">Bacterial biomass</text>
<rect x="84.70" y="500.55" width="28.50" height="4.90" fill="#deb887"/>
<line x1="80.00" y1="503.00" x2="81.60" y2="503.00" stroke="#999" stroke-width="0.7"/>
<text x="79.20" y="506.20" font-size="6.40" text-anchor="end" fill="#111">Protist abundance</text>
<rect x="84.70" y="510.49" width="23.30" height="4.90" fill="#deb887"/>
<line x1="80.00" y1="512.94" x2="81.60" y2="512.94" stroke="#999" stroke-width="0.7"/>
<text x="79.20" y="516.14" font-size="6.40" text-anchor="end" fill="#111">pH</text>
<rect x="81.60" y="437.40" width="64.80" height="81.50" fill="none" stroke="#c2c2c2" stroke-width="1"/>
<line x1="84.70" y1="518.90" x2="84.70" y2="520.50" stroke="#999" stroke-width="0.7"/>
<text x="84.70" y="526.60" font-size="6.4" text-anchor="middle" fill="#111">0</text>
<line x1="104.55" y1="518.90" x2="104.55" y2="520.50" stroke="#999" stroke-width="0.7"/>
<text x="104.55" y="526.60" font-size="6.4" text-anchor="middle" fill="#111">5</text>
<line x1="124.40" y1="518.90" x2="124.40" y2="520.50" stroke="#999" stroke-width="0.7"/>
<text x="124.40" y="526.60" font-size="6.4" text-anchor="middle" fill="#111">10</text>
<line x1="144.25" y1="518.90" x2="144.25" y2="520.50" stroke="#999" stroke-width="0.7"/>
<text x="144.25" y="526.60" font-size="6.4" text-anchor="middle" fill="#111">15</text>
<rect x="240.60" y="440.91" width="48.60" height="4.90" fill="#deb887"/>
<line x1="235.80" y1="443.36" x2="237.40" y2="443.36" stroke="#999" stroke-width="0.7"/>
<text x="235.00" y="446.56" font-size="6.40" text-anchor="end" fill="#111">Dissolved organic carbon</text>
<rect x="240.60" y="450.85" width="48.10" height="4.90" fill="#deb887"/>
<line x1="235.80" y1="453.30" x2="237.40" y2="453.30" stroke="#999" stroke-width="0.7"/>
<text x="235.00" y="456.50" font-size="6.40" text-anchor="end" fill="#111">Inoculum size</text>
<rect x="240.60" y="460.79" width="47.40" height="4.90" fill="#deb887"/>
<line x1="235.80" y1="463.24" x2="237.40" y2="463.24" stroke="#999" stroke-width="0.7"/>
<text x="235.00" y="466.44" font-size="6.40" text-anchor="end" fill="#111">Dissolved organic nitrogen</text>
<rect x="240.60" y="470.73" width="47.20" height="4.90" fill="#deb887"/>
<line x1="235.80" y1="473.18" x2="237.40" y2="473.18" stroke="#999" stroke-width="0.7"/>
<text x="235.00" y="476.38" font-size="6.40" text-anchor="end" fill="#111">Protist abundance</text>
<rect x="240.60" y="480.67" width="46.90" height="4.90" fill="#deb887"/>
<line x1="235.80" y1="483.12" x2="237.40" y2="483.12" stroke="#999" stroke-width="0.7"/>
<text x="235.00" y="486.32" font-size="6.40" text-anchor="end" fill="#111">Ammonium content</text>
<rect x="240.60" y="490.61" width="44.70" height="4.90" fill="#deb887"/>
<line x1="235.80" y1="493.06" x2="237.40" y2="493.06" stroke="#999" stroke-width="0.7"/>
<text x="235.00" y="496.26" font-size="6.40" text-anchor="end" fill="#111">Bacterial biomass</text>
<rect x="240.60" y="500.55" width="35.20" height="4.90" fill="#deb887"/>
<line x1="235.80" y1="503.00" x2="237.40" y2="503.00" stroke="#999" stroke-width="0.7"/>
<text x="235.00" y="506.20" font-size="6.40" text-anchor="end" fill="#111">pH</text>
<rect x="240.60" y="510.49" width="25.20" height="4.90" fill="#deb887"/>
<line x1="235.80" y1="512.94" x2="237.40" y2="512.94" stroke="#999" stroke-width="0.7"/>
<text x="235.00" y="516.14" font-size="6.40" text-anchor="end" fill="#111">Electrical conductivity</text>
<rect x="237.40" y="437.40" width="63.50" height="81.50" fill="none" stroke="#c2c2c2" stroke-width="1"/>
<line x1="240.60" y1="518.90" x2="240.60" y2="520.50" stroke="#999" stroke-width="0.7"/>
<text x="240.60" y="526.60" font-size="6.4" text-anchor="middle" fill="#111">0</text>
<line x1="260.40" y1="518.90" x2="260.40" y2="520.50" stroke="#999" stroke-width="0.7"/>
<text x="260.40" y="526.60" font-size="6.4" text-anchor="middle" fill="#111">5</text>
<line x1="280.20" y1="518.90" x2="280.20" y2="520.50" stroke="#999" stroke-width="0.7"/>
<text x="280.20" y="526.60" font-size="6.4" text-anchor="middle" fill="#111">10</text>
<line x1="300.00" y1="518.90" x2="300.00" y2="520.50" stroke="#999" stroke-width="0.7"/>
<text x="300.00" y="526.60" font-size="6.4" text-anchor="middle" fill="#111">15</text>
<rect x="82.40" y="310.5" width="65.10" height="16.0" fill="#fff" stroke="#505050" stroke-width="1"/>
<text x="114.65" y="321.8" font-size="8.9" font-weight="bold" text-anchor="middle" fill="#000">Non-heated</text>
<rect x="236.50" y="310.5" width="65.30" height="16.0" fill="#fff" stroke="#505050" stroke-width="1"/>
<text x="268.85" y="321.8" font-size="8.9" font-weight="bold" text-anchor="middle" fill="#000">Heated</text>
<rect x="301.8" y="326.40" width="16.6" height="81.50" fill="#fff" stroke="#505050" stroke-width="1"/>
<text transform="translate(306.2,367.15) rotate(90)" font-size="9.4" font-weight="bold" text-anchor="middle" fill="#000">Early (3 dpi)</text>
<rect x="301.8" y="437.40" width="16.6" height="81.50" fill="#fff" stroke="#505050" stroke-width="1"/>
<text transform="translate(306.2,478.15) rotate(90)" font-size="9.4" font-weight="bold" text-anchor="middle" fill="#000">Late (42 dpi)</text>
<text x="148.7" y="545.9" font-size="7.6" text-anchor="middle" fill="#111">Increased in mean squared error (%)</text>
</svg></body></html>
